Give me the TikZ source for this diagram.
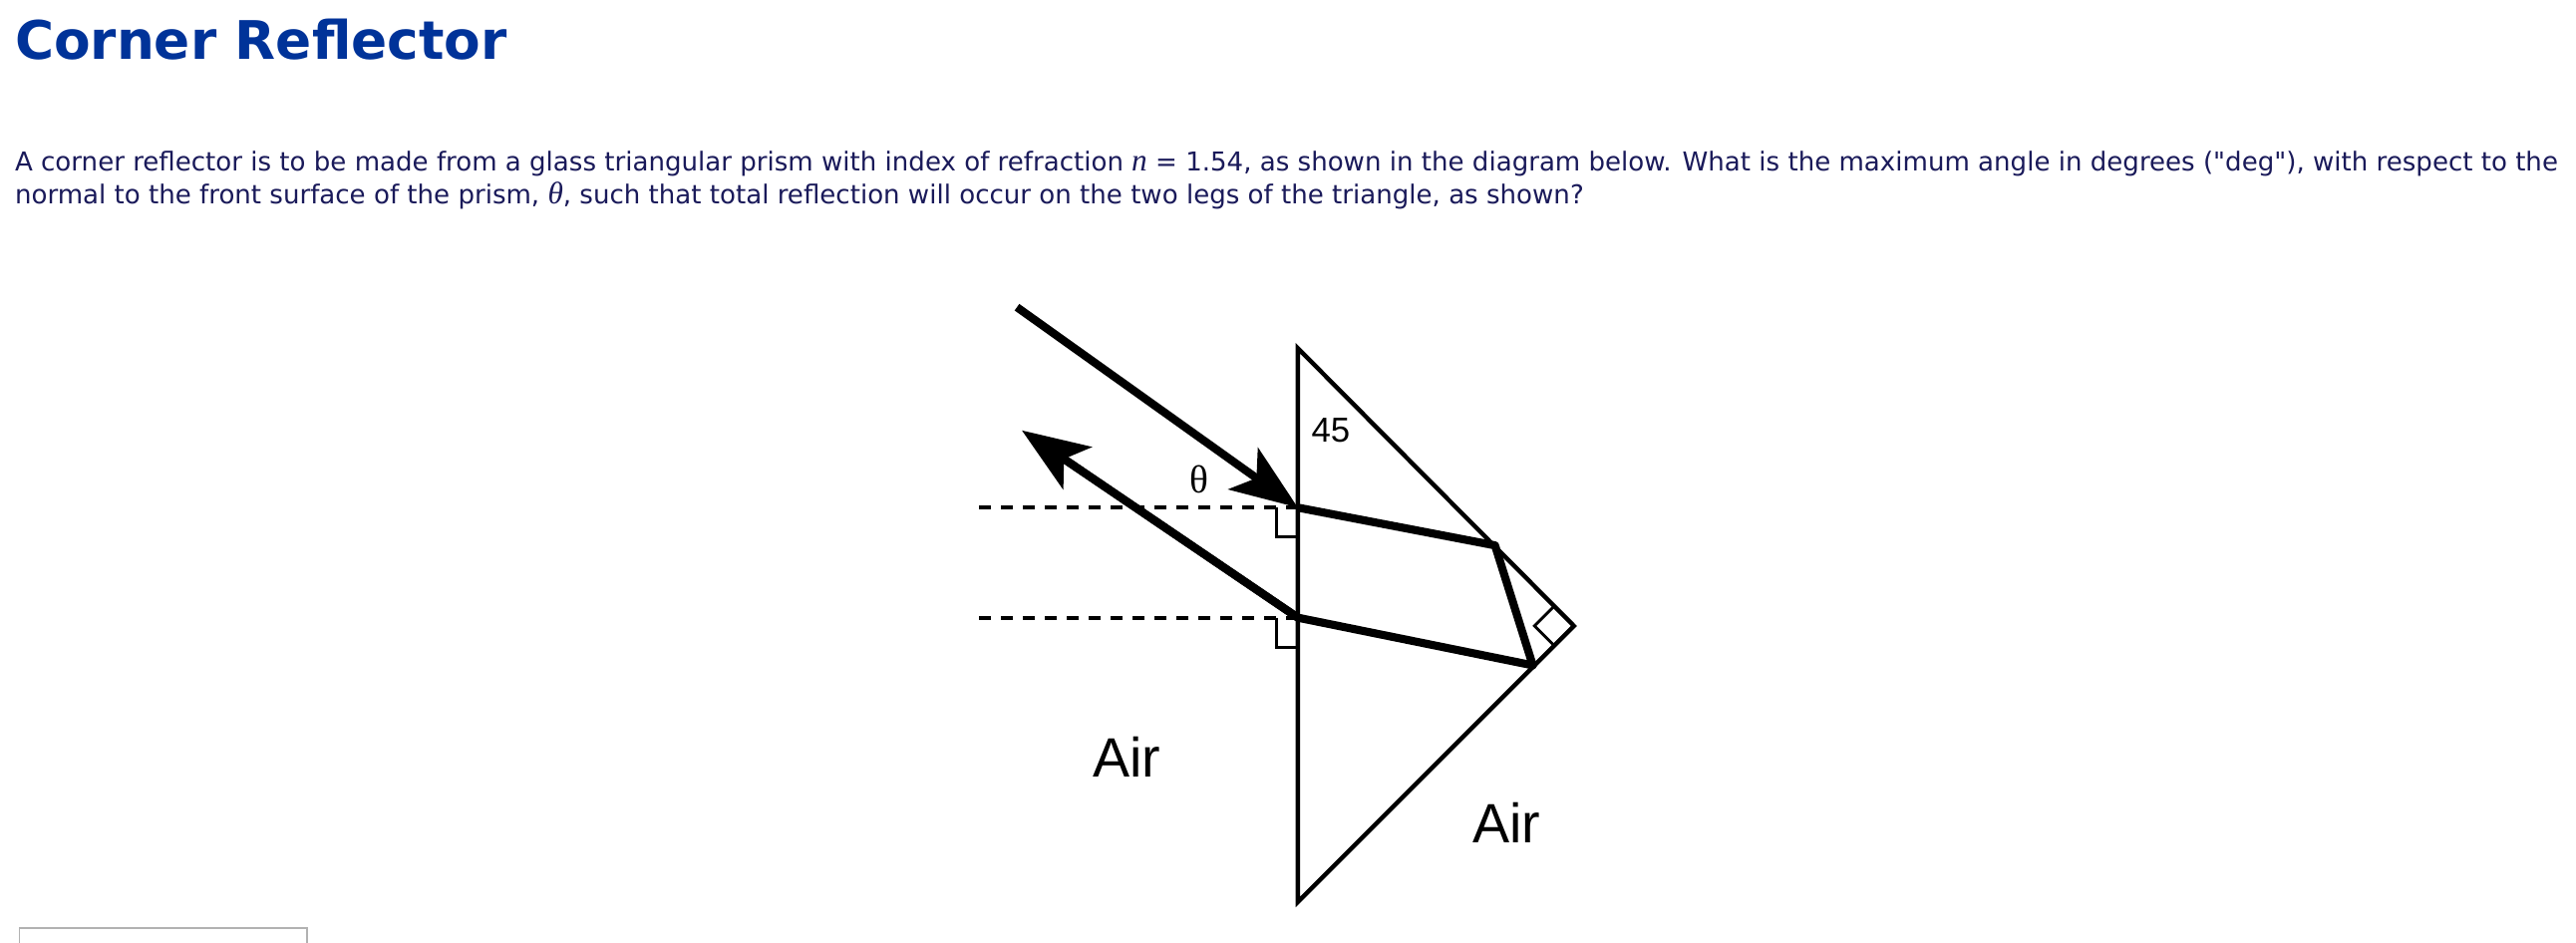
\documentclass[tikz,border=0pt]{standalone}
\usepackage{fontspec}
\setmainfont{DejaVu Sans}
\newfontfamily\plainf{DejaVu Sans}
\newfontfamily\helv{Liberation Sans}
\newfontfamily\serf{Liberation Serif}
\usetikzlibrary{arrows.meta,calc}
\definecolor{ttl}{HTML}{003399}
\definecolor{body}{HTML}{1A1A5A}
\begin{document}
\begin{tikzpicture}[x=0.05cm,y=-0.05cm,
  edge/.style={line width=3.8pt},
  ray/.style={line width=7pt,line join=round},
  tip/.style={-{Stealth[length=58pt,width=44pt,inset=14pt]}},
  dashln/.style={line width=3.4pt,dash pattern=on 10pt off 9pt},
  lbl/.style={font=\helv\fontsize{48}{48}\selectfont,inner sep=0pt}]
\useasboundingbox (0,0) rectangle (1568,574);
\fill[white] (0,0) rectangle (1568,574);
\node[anchor=base west,inner sep=0pt,text=ttl,font=\bfseries\fontsize{46}{46}\selectfont] (title) at (9,36) {Corner Reflector};
\node[anchor=base west,inner sep=0pt,text=body,font=\fontsize{22.5}{28}\selectfont] (l1) at (9,104) {A corner reflector is to be made from a glass triangular prism with index of refraction {\serf\itshape\fontsize{27}{28}\selectfont n} = 1.54, as shown in the diagram below. What is the maximum angle in degrees ({\plainf "deg"}), with respect to the};
\node[anchor=base west,inner sep=0pt,text=body,font=\fontsize{22.5}{28}\selectfont] (l2) at (9,124) {normal to the front surface of the prism, {\serf\itshape\fontsize{27}{28}\selectfont θ}, such that total reflection will occur on the two legs of the triangle, as shown?};
% prism
\coordinate (A) at (790,212); \coordinate (C) at (958,381); \coordinate (B) at (790,549);
\draw[edge,line join=miter] (A) -- (C) -- (B) -- cycle;
% right angle mark at C
\draw[line width=2.5pt] ($(C)+(-12,-12)$) -- ++(-12,12) -- ++(12,12);
% dashed normals
\coordinate (P1) at (790,309); \coordinate (P2) at (790,376);
\coordinate (D1) at (596,309); \coordinate (D2) at (596,376);
\draw[dashln] (D1) -- (P1); \draw[dashln] (D2) -- (P2);
\draw[line width=2.5pt] (777,309) -- (777,327) -- (790,327);
\draw[line width=2.5pt] (777,376) -- (777,394) -- (790,394);
% rays
\coordinate (S) at (619,187); \coordinate (Q1) at (910,332); \coordinate (Q2) at (933,405); \coordinate (E) at (622,262);
\draw[ray,tip] (S) -- (P1);
\draw[ray] (P1) -- (Q1) -- (Q2) -- (P2) -- ($(P2)!0.92!(E)$);
\draw[ray,tip] (P2) -- (E);
% labels
\node[lbl,font=\helv\fontsize{30}{30}\selectfont] (n45) at (810,262) {45};
\node[inner sep=0pt,font=\serf\fontsize{34}{34}\selectfont] (th) at (730,292) {θ};
\node[lbl] (air1) at (686,461) {Air};
\node[lbl] (air2) at (917,501) {Air};
% input box
\draw[line width=1.2pt,gray!60] (12,580) -- (12,565) -- (187,565) -- (187,580);
\end{tikzpicture}
\end{document}
